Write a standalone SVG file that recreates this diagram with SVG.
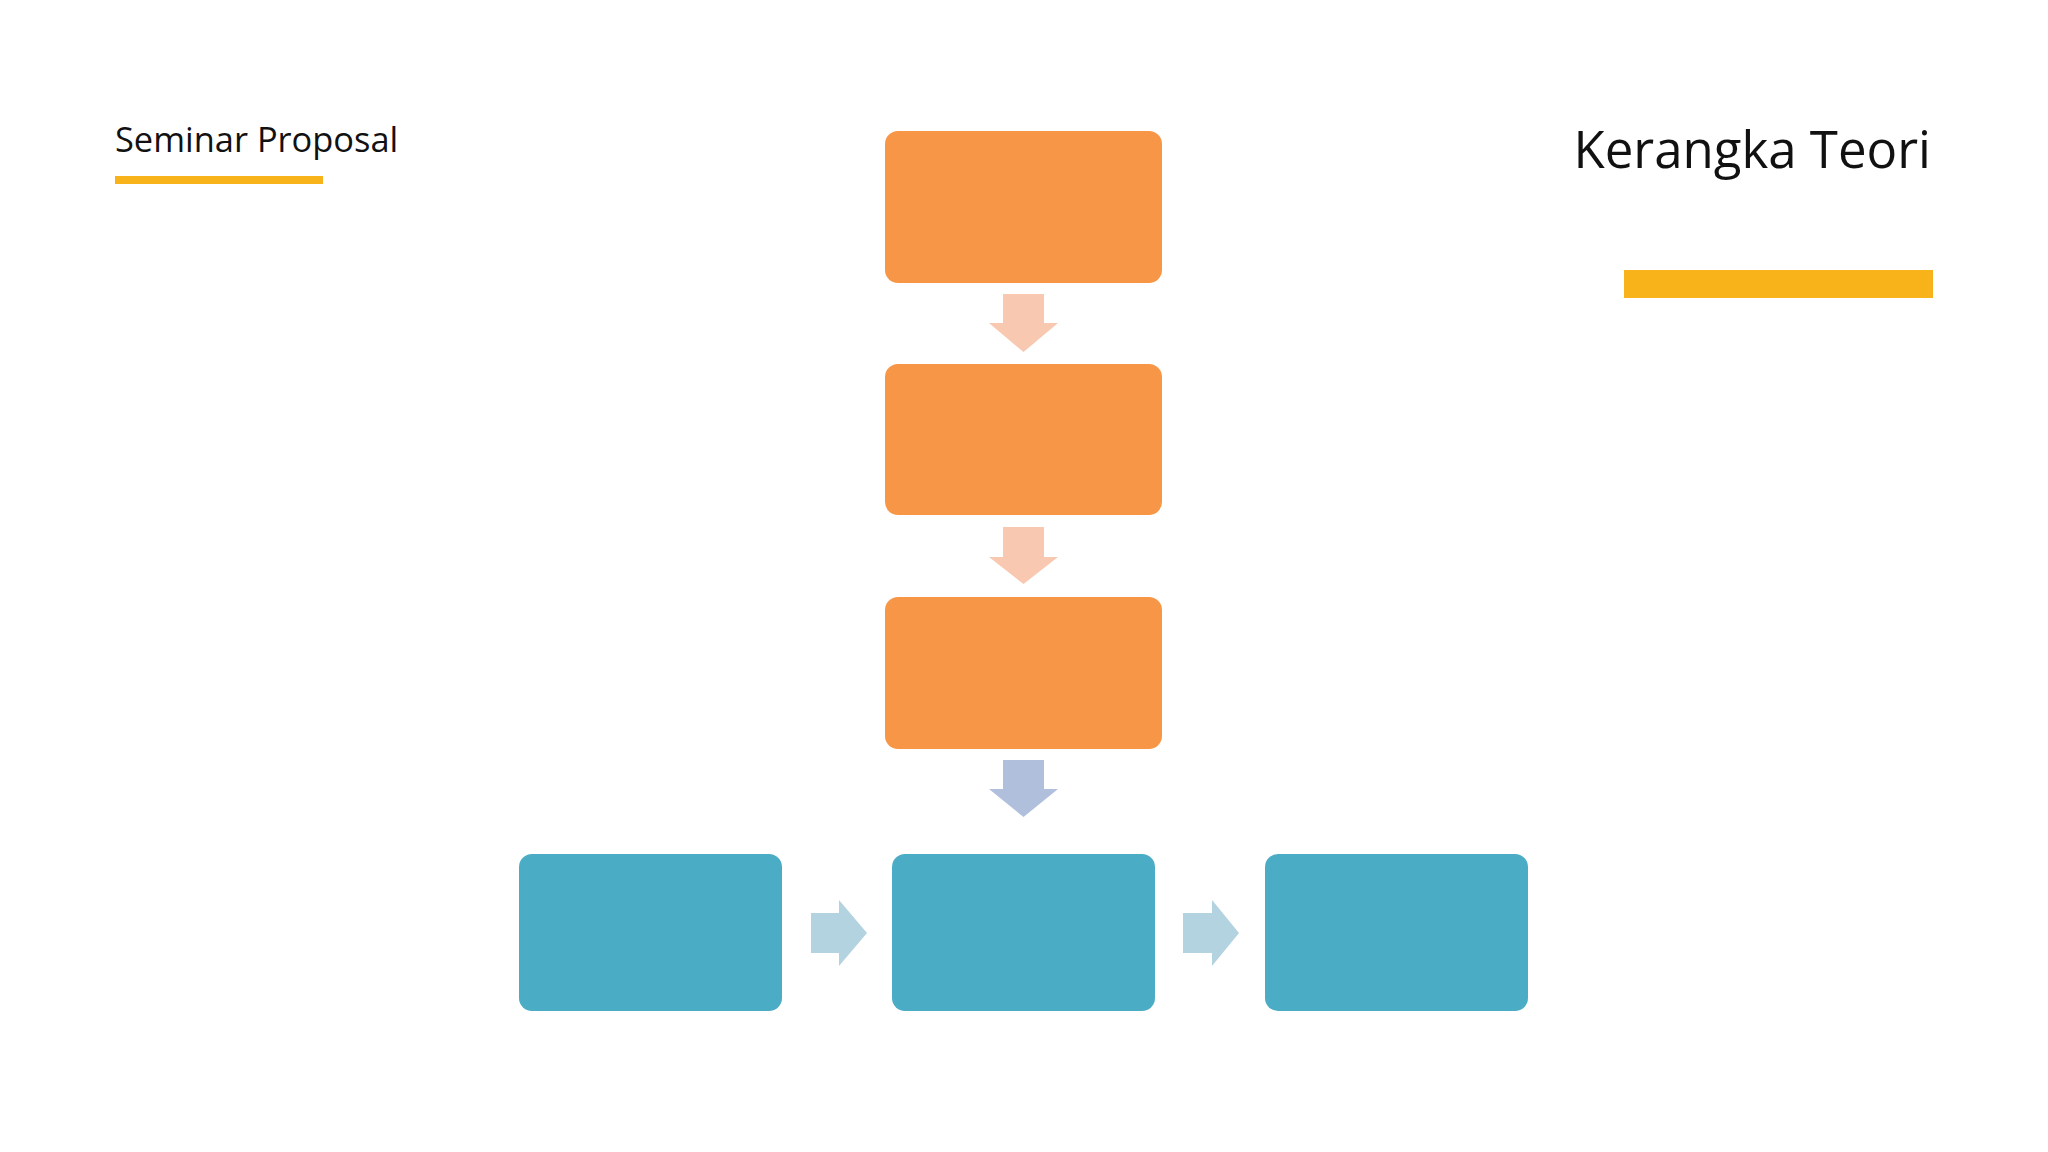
<svg xmlns="http://www.w3.org/2000/svg" width="2048" height="1152" viewBox="0 0 2048 1152">
<style>
.t{font-family:"Open Sans","Noto Sans","Liberation Sans",sans-serif;fill:#111111}
.o{fill:#F79646}
.b{fill:#4BACC6}
.bar{fill:#F8B31A}
</style>
<rect width="2048" height="1152" fill="#FFFFFF"/>
<g id="header">
<text class="t" x="115" y="152" font-size="34.4">Seminar Proposal</text>
<rect class="bar" x="115" y="176" width="208" height="8"/>
<text class="t" x="1931" y="168" font-size="51" text-anchor="end">Kerangka Teori</text>
<rect class="bar" x="1624" y="270" width="309" height="28"/>
</g>
<g id="node1"><rect class="o" x="885" y="131" width="277" height="152" rx="13"/></g>
<g id="node2"><rect class="o" x="885" y="364" width="277" height="151" rx="13"/></g>
<g id="node3"><rect class="o" x="885" y="597" width="277" height="152" rx="13"/></g>
<g id="node4"><rect class="b" x="519" y="854" width="263" height="157" rx="13"/></g>
<g id="node5"><rect class="b" x="892" y="854" width="263" height="157" rx="13"/></g>
<g id="node6"><rect class="b" x="1265" y="854" width="263" height="157" rx="13"/></g>
<g id="connectors">
<path d="M1003 294 H1044 V323 H1058 L1023.5 352 L989 323 H1003 Z" fill="#F9C8B1"/>
<path d="M1003 527 H1044 V557 H1058 L1023.5 584 L989 557 H1003 Z" fill="#F9C8B1"/>
<path d="M1003 760 H1044 V789 H1058 L1023.5 817 L989 789 H1003 Z" fill="#B0BFDC"/>
<path d="M811 913 H839 V900 L867 933 L839 966 V953 H811 Z" fill="#B3D3E0"/>
<path d="M1183 913 H1212 V900 L1239 933 L1212 966 V953 H1183 Z" fill="#B3D3E0"/>
</g>
</svg>
